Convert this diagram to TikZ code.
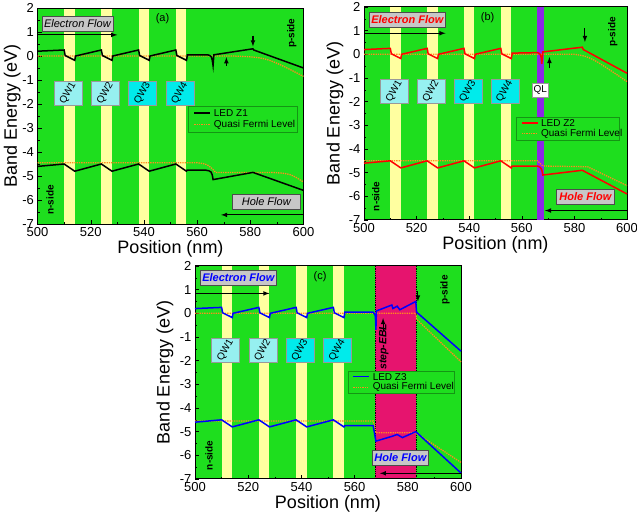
\documentclass[tikz,border=0pt]{standalone}
\usepackage{fontspec}
\setmainfont{Liberation Sans}
\usetikzlibrary{positioning}

\definecolor{bggreen}{RGB}{30,222,30}
\definecolor{wellyel}{RGB}{255,255,160}
\definecolor{qwlight}{RGB}{150,240,240}
\definecolor{qwdark}{RGB}{0,235,235}
\definecolor{fermi}{RGB}{255,140,30}
\definecolor{qlpurple}{RGB}{140,40,230}
\definecolor{eblpink}{RGB}{230,20,110}
\definecolor{legline}{RGB}{20,150,20}

\tikzset{
  bg/.style={fill=bggreen},
  well/.style={fill=wellyel},
  qwbox/.style={draw=black!40, minimum width=28pt, minimum height=21pt, inner sep=0pt, font=\fontsize{10}{10}\selectfont},
  flowbox/.style={draw=black!70, fill=black!22, inner sep=2pt, minimum height=15pt, font=\fontsize{11}{11}\selectfont\itshape},
  boldflow/.style={flowbox, font=\fontsize{11}{11}\selectfont\bfseries\itshape},
  band/.style={line width=1.5pt},
  fermiline/.style={fermi, densely dotted, line width=1.3pt},
  legend/.style={draw=legline, fill=bggreen},
  legtext/.style={right, font=\fontsize{10}{10}\selectfont},
  ticklab/.style={font=\fontsize{13}{13}\selectfont},
  axlab/.style={font=\fontsize{18}{18}\selectfont},
  side/.style={font=\fontsize{10}{10}\selectfont\bfseries, rotate=90},
  flow/.style={-latex, line width=1.1pt}
}

% common frame of one band diagram: #1 panel letter, #2 y-label offset
\newcommand\bandframe[2]{
  \fill[bg] (0,-7) rectangle (100,2);
  \foreach \w in {10,24,38,52} \fill[well] (\w,-7) rectangle (\w+4,2);
  \foreach \k/\c in {1/qwlight,2/qwlight,3/qwdark,4/qwdark}
    \node[qwbox, fill=\c] (qw\k) at ({-2.5+14*\k},-1.56) {\rotatebox{60}{QW\k}};
  \draw[line width=1pt] (0,-7) rectangle (100,2);
  \foreach \y in {-7,...,2} {
    \draw (0,\y) -- ++(4pt,0);
    \node[ticklab, left] at (0,\y) {\y};
  }
  \foreach \y in {-6.5,-5.5,...,1.5} \draw (0,\y) -- ++(2pt,0);
  \foreach \x in {0,20,...,100} {
    \draw (\x,-7) -- ++(0,4pt);
    \node[ticklab, below] at (\x,-7) {\the\numexpr500+\x\relax};
  }
  \foreach \x in {10,30,...,90} \draw (\x,-7) -- ++(0,2pt);
  \node[axlab, rotate=90] (ylab) at (#2,-2.5) {Band Energy (eV)};
  \node[axlab] (xlab) at (50,-8.05) {Position (nm)};
  \node[font=\fontsize{11}{11}\selectfont] (tag) at (47,1.55) {(#1)};
}

\begin{document}
\begin{tikzpicture}[x=1pt, y=1pt]
\useasboundingbox (0,0) rectangle (637,-522);

% (a)
\begin{scope}[shift={(37.5,-56)}, x=2.66pt, y=24pt]
  \bandframe{a}{-9.5}
  \draw[fermiline] (0,0) -- (73,0) .. controls (86,-0.05) .. (100,-0.85);
  \draw[fermiline] (0,-4.45) -- (60,-4.45) .. controls (64,-4.5) .. (67,-4.85)
      -- (88,-4.85) .. controls (95,-4.9) .. (100,-5.25);
  \draw[band] (0,0.2) \foreach \w in {10,24,38,52} { -- (\w,0.25) -- (\w+0.4,0.02) -- (\w+4,-0.18) -- (\w+4.3,0) }
      -- (56.3,0.05) -- (64,0.05) .. controls (65.5,0) .. (66,-0.4) -- (66.3,0.05) -- (81,0.3) -- (81.3,0.25) -- (100,-0.5);
  \draw[band] (0,-4.6) \foreach \w in {10,24,38,52} { -- (\w,-4.5) -- (\w+4,-4.8) }
      -- (56.3,-4.75) -- (63,-4.75) .. controls (65.5,-4.8) .. (66,-5.15) -- (81,-4.85) -- (100,-5.6);
  \node[flowbox, minimum width=68pt, text=black] (eflow) at (15,1.35) {Electron Flow};
  \node[flowbox, minimum width=68pt, text=black] (hflow) at (86,-6.08) {Hole Flow};
  \coordinate (ea) at (0,0.88); \coordinate (eb) at (30,0.88);
  \coordinate (ha) at (100,-6.62); \coordinate (hb) at (69,-6.62);
  \draw[flow] (ea) -- (eb);
  \draw[flow] (ha) -- (hb);
  \coordinate (da) at (81,0.85); \coordinate (db) at (81,0.4);
  \coordinate (ua) at (71,-0.4); \coordinate (ub) at (71,-0.05);
  \draw[flow] (da) -- (db);
  \draw[flow] (ua) -- (ub);
  \node[side] (pside) at (95.6,0.95) {p-side};
  \node[side] (nside) at (4.7,-6.0) {n-side};
  \draw[legend] (56.6,-2.08) rectangle (97.5,-3.17);
  \draw[band] (59,-2.38) -- (65,-2.38);
  \draw[fermiline] (59,-2.85) -- (65,-2.85);
  \node[legtext] (leg1) at (65,-2.38) {LED Z1};
  \node[legtext] (leg2) at (65,-2.85) {Quasi Fermi Level};
\end{scope}

% (b)
\begin{scope}[shift={(364,-54.3)}, x=2.63pt, y=23.67pt]
  \bandframe{b}{-11}
  \fill[qlpurple] (65.8,-7) rectangle (68.4,2);
  \draw[line width=1pt] (0,2) -- (100,2);
  \draw[fermiline] (0,0) -- (80,0) .. controls (86,-0.1) .. (100,-1.15);
  \draw[fermiline] (0,-4.5) -- (66,-4.5) -- (68,-4.72) -- (85,-4.75) -- (100,-5.55);
  \draw[band, red] (0,0.2) \foreach \w in {10,24,38,52} { -- (\w,0.25) -- (\w+0.4,0.02) -- (\w+4,-0.18) -- (\w+4.3,0) }
      -- (56.3,0.05) -- (66,0.07) .. controls (67.3,0) .. (67.6,-0.4) -- (68,0.1) -- (83,0.3) -- (83.4,0.2) -- (100,-0.8);
  \draw[band, red] (0,-4.6) \foreach \w in {10,24,38,52} { -- (\w,-4.5) -- (\w+4,-4.8) }
      -- (56.3,-4.72) -- (66,-4.72) .. controls (67.5,-4.8) .. (68,-5.1) -- (83,-4.9) -- (100,-5.9);
  \node[fill=white, draw=black!40, font=\fontsize{10}{10}\selectfont, minimum width=16pt, minimum height=14pt, inner sep=1pt] (ql) at (67,-1.52) {QL};
  \node[boldflow, minimum width=71pt, text=red] (eflow) at (16.5,1.48) {Electron Flow};
  \node[boldflow, minimum width=58pt, text=red] (hflow) at (84.2,-6.0) {Hole Flow};
  \coordinate (ea) at (0,0.89); \coordinate (eb) at (31,0.89);
  \coordinate (ha) at (100,-6.6); \coordinate (hb) at (68.8,-6.6);
  \draw[flow] (ea) -- (eb);
  \draw[flow] (ha) -- (hb);
  \coordinate (da) at (84,1.1); \coordinate (db) at (84,0.52);
  \coordinate (ua) at (70.5,-0.58); \coordinate (ub) at (70.5,-0.11);
  \draw[flow] (da) -- (db);
  \draw[flow] (ua) -- (ub);
  \node[side] (pside) at (94.6,0.95) {p-side};
  \node[side] (nside) at (4.5,-6.0) {n-side};
  \draw[legend] (58,-2.65) rectangle (97,-3.62);
  \draw[band, red] (60,-2.9) -- (66,-2.9);
  \draw[fermiline] (60,-3.35) -- (66,-3.35);
  \node[legtext] (leg1) at (66,-2.9) {LED Z2};
  \node[legtext] (leg2) at (66,-3.35) {Quasi Fermi Level};
\end{scope}

% (c)
\begin{scope}[shift={(195,-313.3)}, x=2.66pt, y=23.67pt]
  \bandframe{c}{-11.3}
  \fill[eblpink] (67.8,-7) rectangle (83.1,2);
  \draw[densely dotted, line width=0.8pt] (67.8,-7) -- (67.8,2) (83.1,-7) -- (83.1,2);
  \draw[line width=1pt] (0,2) -- (100,2) (0,-7) -- (100,-7);
  \draw[fermiline] (0,0) -- (83,0) -- (83.3,-0.25) -- (100,-2.05);
  \draw[fermiline] (0,-4.55) -- (67,-4.55) -- (68,-5.05) -- (83,-5.05) -- (100,-6.3);
  \draw[band, blue] (0,0.2) \foreach \w in {10,24,38,52} { -- (\w,0.25) -- (\w+0.4,0.02) -- (\w+4,-0.18) -- (\w+4.3,0) }
      -- (56.3,0.05) -- (67,0.05) .. controls (67.8,0) .. (68,-0.7) -- (68.2,0.1) -- (74,0.35) -- (74.4,0.2)
      -- (76,0.3) -- (77,0.15) -- (83,0.5) -- (83.3,0.05) -- (100,-1.6);
  \draw[band, blue] (0,-4.6) \foreach \w in {10,24,38,52} { -- (\w,-4.5) -- (\w+4,-4.8) }
      -- (56.3,-4.75) -- (67,-4.75) -- (68,-5.4) -- (74,-5.2) -- (76,-5.12) -- (78,-5.25) -- (83,-5.0) -- (100,-6.75);
  \node[side, font=\fontsize{10.5}{10.5}\selectfont\bfseries\itshape] (ebl) at (71,-1.41) {step-EBL};
  \node[boldflow, minimum width=70pt, text=blue] (eflow) at (16.3,1.5) {Electron Flow};
  \node[boldflow, minimum width=56pt, text=blue] (hflow) at (77.2,-6.1) {Hole Flow};
  \coordinate (ea) at (0,0.84); \coordinate (eb) at (28,0.84);
  \coordinate (ha) at (100,-6.76); \coordinate (hb) at (69.5,-6.76);
  \draw[flow] (ea) -- (eb);
  \draw[flow] (ha) -- (hb);
  \coordinate (da) at (83.8,0.95); \coordinate (db) at (83.8,0.5);
  \coordinate (ua) at (70.7,-0.75); \coordinate (ub) at (70.7,-0.2);
  \draw[flow] (da) -- (db);
  \draw[flow] (ua) -- (ub);
  \node[side] (pside) at (94,0.98) {p-side};
  \node[side] (nside) at (5.3,-6.0) {n-side};
  \draw[legend] (57.6,-2.44) rectangle (97.3,-3.37);
  \draw[band, blue] (59.5,-2.68) -- (65.5,-2.68);
  \draw[fermiline] (59.5,-3.12) -- (65.5,-3.12);
  \node[legtext] (leg1) at (65.5,-2.68) {LED Z3};
  \node[legtext] (leg2) at (65.5,-3.12) {Quasi Fermi Level};
\end{scope}
\end{tikzpicture}
\end{document}
